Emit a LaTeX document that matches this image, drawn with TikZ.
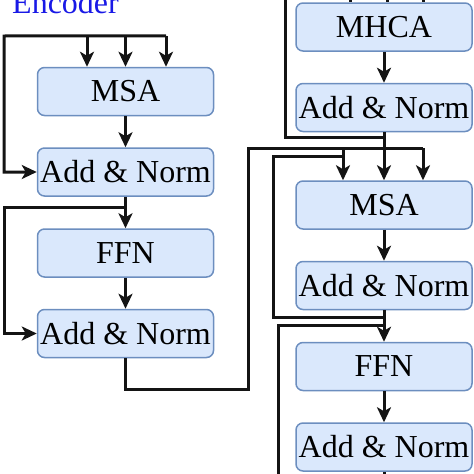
\documentclass[tikz,border=0pt]{standalone}
\usepackage{fontspec}
\setmainfont{Liberation Serif}
\usetikzlibrary{arrows.meta,calc}
\definecolor{boxfill}{HTML}{DAE8FC}
\definecolor{boxline}{HTML}{6C8EBF}
\definecolor{capblue}{RGB}{25,25,230}

\begin{document}
\begin{tikzpicture}[x=1pt,y=-1pt,
    block/.style={draw=boxline, fill=boxfill, line width=1.5pt, rounded corners=7pt,
        minimum width=176pt, minimum height=48pt, inner sep=0pt,
        font=\fontsize{32}{36}\selectfont},
    wire/.style={line width=3pt, black!92},
    arr/.style={wire, -{Stealth[length=15pt,width=14pt,inset=4pt]}}]
    \useasboundingbox (0,0) rectangle (474,474);

    % Title
    \node[anchor=base west, inner sep=0pt, text=capblue,
        font=\fontsize{32}{36}\selectfont] (title) at (12,13) {Encoder};

    % Encoder blocks
    \node[block] (msaL) at (125.5,91.5) {MSA};
    \node[block] (anL1) at (125.5,172) {Add \& Norm};
    \node[block] (ffnL) at (125.5,253) {FFN};
    \node[block] (anL2) at (125.5,333.5) {Add \& Norm};

    % Decoder blocks
    \node[block] (mhca) at (384,27) {MHCA};
    \node[block] (anR1) at (384,107.5) {Add \& Norm};
    \node[block] (msaR) at (384,205) {MSA};
    \node[block] (anR2) at (384,285.5) {Add \& Norm};
    \node[block] (ffnR) at (384,366.5) {FFN};
    \node[block] (anR3) at (384,447) {Add \& Norm};

    % Encoder inputs
    \coordinate (inL) at (4,36);
    \foreach \dx in {-38.5,0,40.5}
        \draw[arr] ($(msaL.north)+(\dx,-31)$) -- ($(msaL.north)+(\dx,0)$);
    \draw[arr] ($(msaL.north)+(40.5,-31)$) -- (inL) |- (anL1.west);

    % Encoder flow
    \draw[arr] (msaL.south) -- (anL1.north);
    \draw[arr] (anL1.south) -- (ffnL.north);
    \draw[arr] (ffnL.south) -- (anL2.north);
    \coordinate (tapL2) at ($(anL1.south)+(0,11)$);
    \draw[arr] (tapL2) -- (tapL2 -| inL) |- (anL2.west);

    % Encoder output to decoder
    \coordinate (busL) at (248,389);
    \coordinate (kvR) at ($(msaR.north)+(39,-32)$);
    \draw[wire] (anL2.south) |- (busL) |- (kvR);
    \foreach \dx in {-41,39}
        \draw[arr] ($(msaR.north)+(\dx,-32)$) -- ($(msaR.north)+(\dx,0)$);

    % Decoder top
    \foreach \dx in {-34,3,39}
        \draw[wire] ($(mhca.north)+(\dx,-8)$) -- ($(mhca.north)+(\dx,0)$);
    \draw[arr] (mhca.south) -- (anR1.north);
    \coordinate (resR0) at (285,-8);
    \draw[wire] (resR0) |- ($(anR1.south)+(0,5)$);

    % Decoder flow
    \draw[arr] (anR1.south) -- (msaR.north);
    \draw[arr] (msaR.south) -- (anR2.north);
    \draw[arr] (anR2.south) -- (ffnR.north);
    \draw[arr] (ffnR.south) -- (anR3.north);
    \draw[wire] (anR3.south) -- ++(0,12);

    % Decoder residuals
    \coordinate (tapR2) at ($(msaR.north)+(-41,-24)$);
    \draw[wire] (tapR2) -- ++(-70,0) |- ($(anR2.south)+(0,7)$);
    \draw[wire] ($(anR2.south)+(0,15)$) -- ++(-106,0) -- ++(0,160);
\end{tikzpicture}
\end{document}
